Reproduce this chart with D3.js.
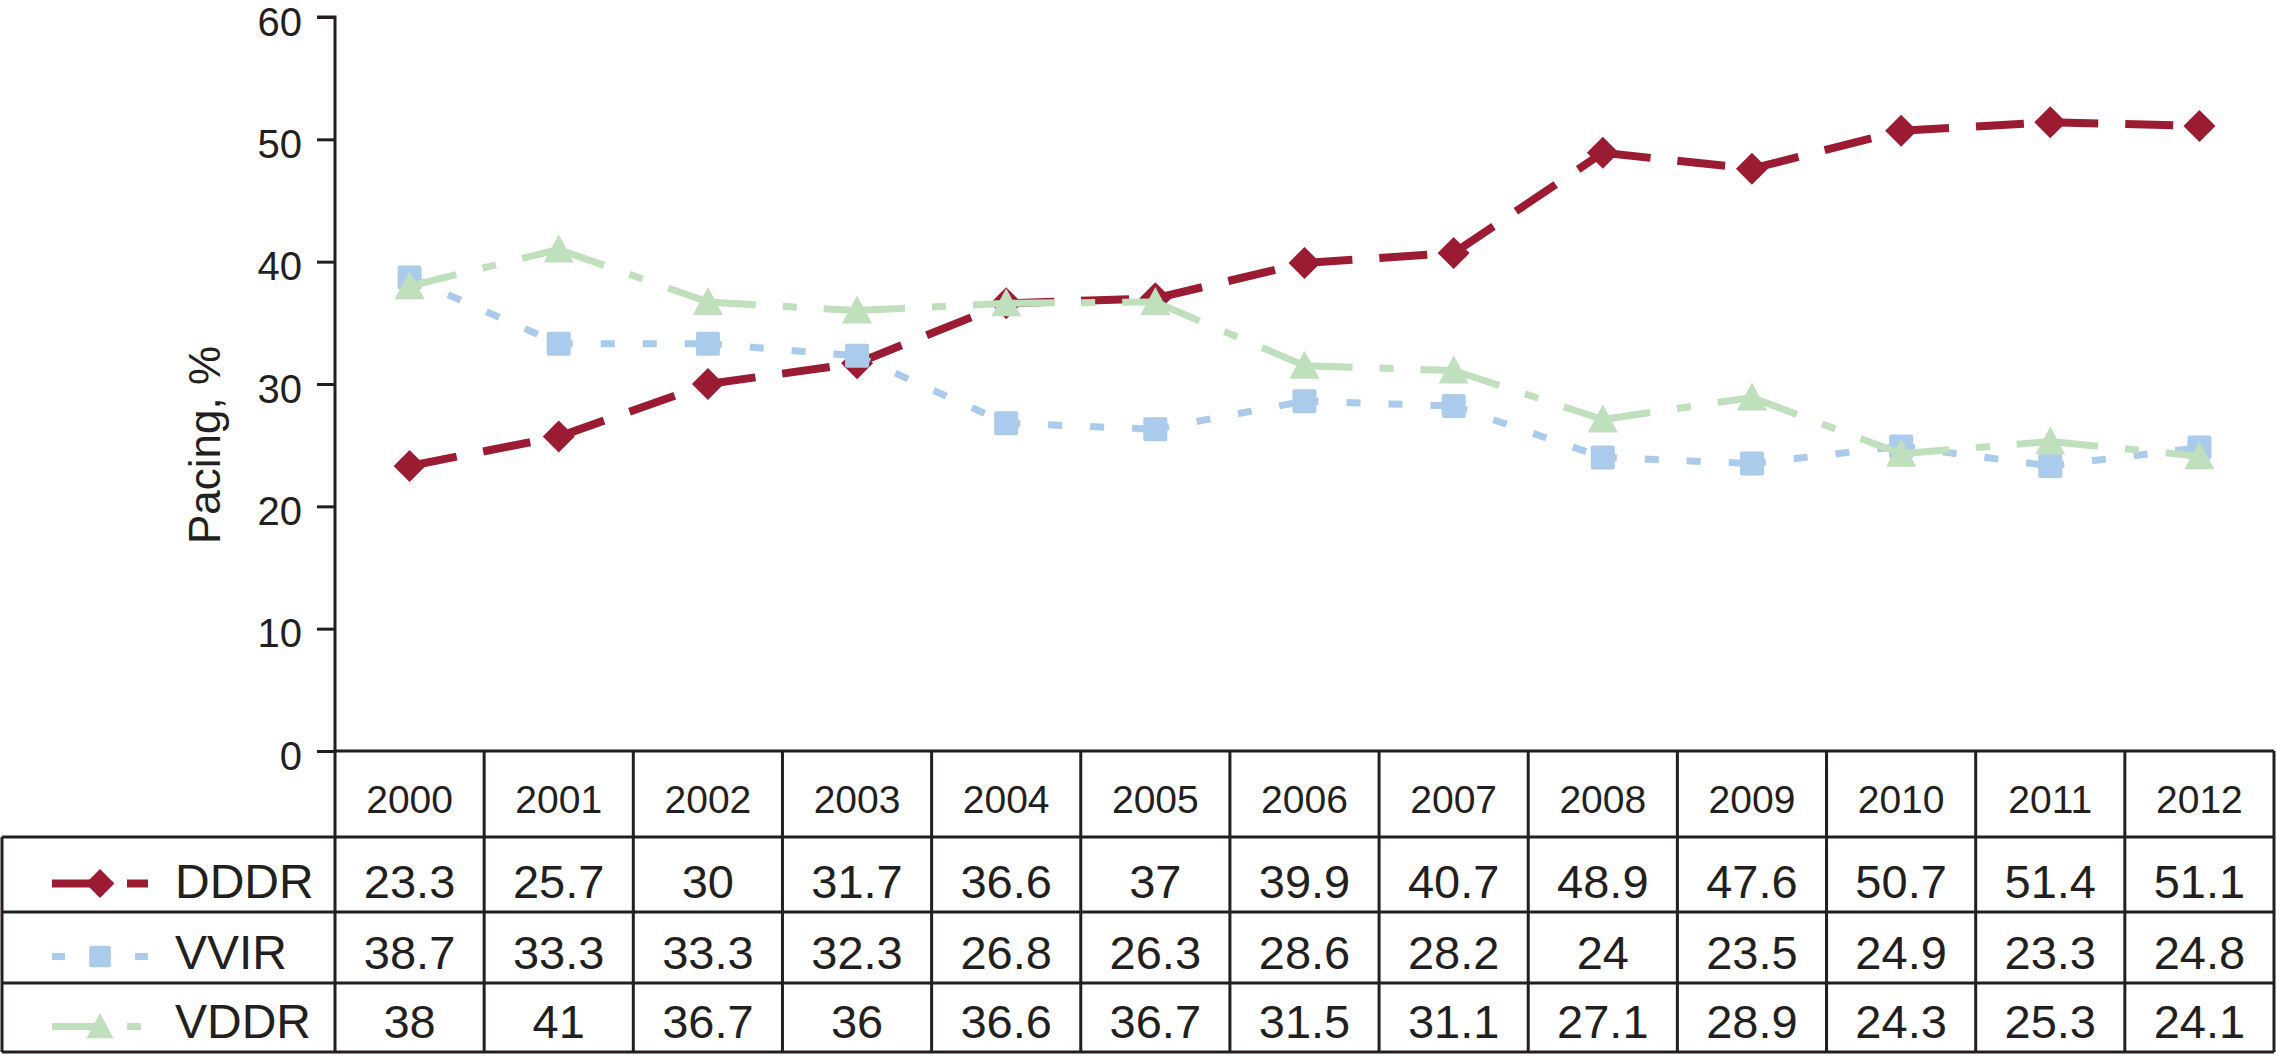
<!DOCTYPE html>
<html>
<head>
<meta charset="utf-8">
<script src="https://cdn.jsdelivr.net/npm/d3@7"></script>
<style>
  body { margin: 0; background: #fff; }
  text { font-family: "Liberation Sans", Arial, sans-serif; fill: #231f20; }
</style>
</head>
<body>
<div id="chart"></div>
<script>
// Data
const years = ["2000","2001","2002","2003","2004","2005","2006","2007","2008","2009","2010","2011","2012"];
const dddr = [23.3, 25.7, 30, 31.7, 36.6, 37, 39.9, 40.7, 48.9, 47.6, 50.7, 51.4, 51.1];
const vvir = [38.7, 33.3, 33.3, 32.3, 26.8, 26.3, 28.6, 28.2, 24, 23.5, 24.9, 23.3, 24.8];
const vddr = [38, 41, 36.7, 36, 36.6, 36.7, 31.5, 31.1, 27.1, 28.9, 24.3, 25.3, 24.1];
const yTicks = [0, 10, 20, 30, 40, 50, 60];

const series = [
  {name: "DDDR", values: dddr, color: "#9b1b33", width: 8, dash: "48,27", marker: "diamond"},
  {name: "VVIR", values: vvir, color: "#aacbec", width: 7, dash: "14,28", marker: "square"},
  {name: "VDDR", values: vddr, color: "#bfdfbd", width: 7, dash: "48,27,14,27", marker: "triangle"}
];

let width = 2276, height = 1059;
let axisX = 335, tableRight = 2274, tableLeft = 2;
let rowLines = [751, 837, 912, 983, 1052]; // header, DDDR, VVIR, VDDR

const svg = d3.select("#chart")
  .append("svg")
  .attr("width", width)
  .attr("height", height);

// Scales
const x = d3.scaleBand().domain(years).range([axisX, tableRight]);
const y = d3.scaleLinear().domain([0, 60]).range([751, 17]);
const cx = d => x(d) + x.bandwidth() / 2;

// Y axis
const yAxis = svg.append("g")
  .attr("transform", `translate(${axisX},0)`)
  .call(d3.axisLeft(y).tickValues(yTicks).tickSize(18).tickPadding(15));
yAxis.select(".domain").attr("stroke", "#231f20").attr("stroke-width", 3)
  .attr("d", `M-18,${y(60)}H0V1052`);
yAxis.selectAll(".tick line").attr("stroke", "#231f20").attr("stroke-width", 3);
yAxis.selectAll(".tick text")
  .attr("font-size", 40)
  .attr("font-family", "'Liberation Sans', Arial, sans-serif")
  .attr("fill", "#231f20")
  .attr("dy", "0.45em");

svg.append("text")
  .attr("transform", "translate(220,445) rotate(-90)")
  .attr("text-anchor", "middle")
  .attr("font-size", 44)
  .text("Pacing, %");

// Table grid
const grid = svg.append("g").attr("stroke", "#231f20").attr("stroke-width", 3);
grid.append("line").attr("x1", axisX).attr("x2", tableRight).attr("y1", rowLines[0]).attr("y2", rowLines[0]);
rowLines.slice(1).forEach(r => {
  grid.append("line").attr("x1", tableLeft).attr("x2", tableRight).attr("y1", r).attr("y2", r);
});
grid.append("line").attr("x1", tableLeft).attr("x2", tableLeft).attr("y1", rowLines[1]).attr("y2", rowLines[4]);
years.forEach((yr, i) => {
  const xe = x(yr) + x.bandwidth();
  grid.append("line").attr("x1", xe).attr("x2", xe).attr("y1", rowLines[0]).attr("y2", rowLines[4]);
});

// Header row
svg.selectAll(".year")
  .data(years)
  .enter().append("text")
  .attr("class", "year")
  .attr("x", d => cx(d))
  .attr("y", rowLines[1] - 24)
  .attr("text-anchor", "middle")
  .attr("font-size", 39)
  .text(d => d);

// Marker path builder
function markerPath(type) {
  if (type === "diamond") return "M0,-16L16,0L0,16L-16,0Z";
  if (type === "square") return "M-10,-12H10Q12,-12 12,-10V10Q12,12 10,12H-10Q-12,12 -12,10V-10Q-12,-12 -10,-12Z";
  return "M0,-15L15,13H-15Z";
}

// Lines: each segment restarts the dash pattern, as in the source
series.forEach((s, si) => {
  const g = svg.append("g");
  const pts = s.values.map((v, i) => [cx(years[i]), y(v)]);
  g.selectAll(".seg")
    .data(d3.pairs(pts))
    .enter().append("line")
    .attr("x1", d => d[0][0]).attr("y1", d => d[0][1])
    .attr("x2", d => d[1][0]).attr("y2", d => d[1][1])
    .attr("stroke", s.color)
    .attr("stroke-width", s.width)
    .attr("stroke-dasharray", s.dash);
  g.selectAll(".mk")
    .data(pts)
    .enter().append("path")
    .attr("d", markerPath(s.marker))
    .attr("transform", d => `translate(${d[0]},${d[1]})`)
    .attr("fill", s.color);

  // Table row
  const rowBottom = rowLines[si + 2];
  svg.selectAll(".val" + si)
    .data(s.values)
    .enter().append("text")
    .attr("x", (d, i) => cx(years[i]))
    .attr("y", rowBottom - 14)
    .attr("text-anchor", "middle")
    .attr("font-size", 47)
    .text(d => d);

  // Legend in the left cell
  const ly = (rowLines[si + 1] + rowBottom) / 2 + 9;
  svg.append("line")
    .attr("x1", 52).attr("x2", 148).attr("y1", ly).attr("y2", ly)
    .attr("stroke", s.color).attr("stroke-width", s.width)
    .attr("stroke-dasharray", s.name === "VVIR" ? "13,70,13" : s.name === "DDDR" ? "48,27,21" : "48,27,14");
  svg.append("path")
    .attr("d", markerPath(s.marker))
    .attr("transform", `translate(100,${ly}) scale(0.9)`)
    .attr("fill", s.color);
  svg.append("text")
    .attr("x", 175)
    .attr("y", rowBottom - 14)
    .attr("font-size", 48)
    .text(s.name);
});
</script>
</body>
</html>
